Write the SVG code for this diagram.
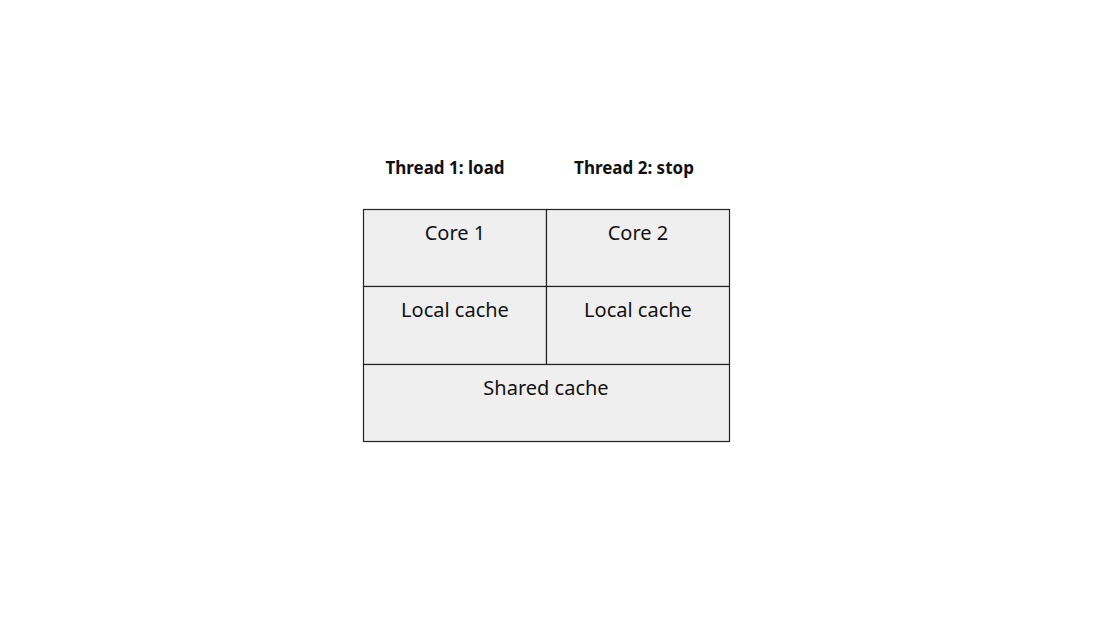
<svg xmlns="http://www.w3.org/2000/svg" width="1100" height="618" viewBox="0 0 1100 618">
<style>
.b{fill:#efefef;stroke:#222;stroke-width:1.2}
.t{font-family:"Noto Sans","Liberation Sans",sans-serif;font-size:20px;fill:#111;text-anchor:middle}
.h{font-family:"Noto Sans","Liberation Sans",sans-serif;font-size:17px;font-weight:bold;fill:#111;text-anchor:middle}
</style>
<rect width="1100" height="618" fill="#fff"/>
<text class="h" x="445" y="174">Thread 1: load</text>
<text class="h" x="634" y="174">Thread 2: stop</text>
<g id="core1"><rect class="b" x="363.5" y="209.5" width="183" height="77"/><text class="t" x="455" y="240">Core 1</text></g>
<g id="core2"><rect class="b" x="546.5" y="209.5" width="183" height="77"/><text class="t" x="638" y="240">Core 2</text></g>
<g id="local1"><rect class="b" x="363.5" y="286.5" width="183" height="78"/><text class="t" x="455" y="317">Local cache</text></g>
<g id="local2"><rect class="b" x="546.5" y="286.5" width="183" height="78"/><text class="t" x="638" y="317">Local cache</text></g>
<g id="shared"><rect class="b" x="363.5" y="364.5" width="366" height="77"/><text class="t" x="546" y="395">Shared cache</text></g>
<g id="connectors"/>
</svg>
